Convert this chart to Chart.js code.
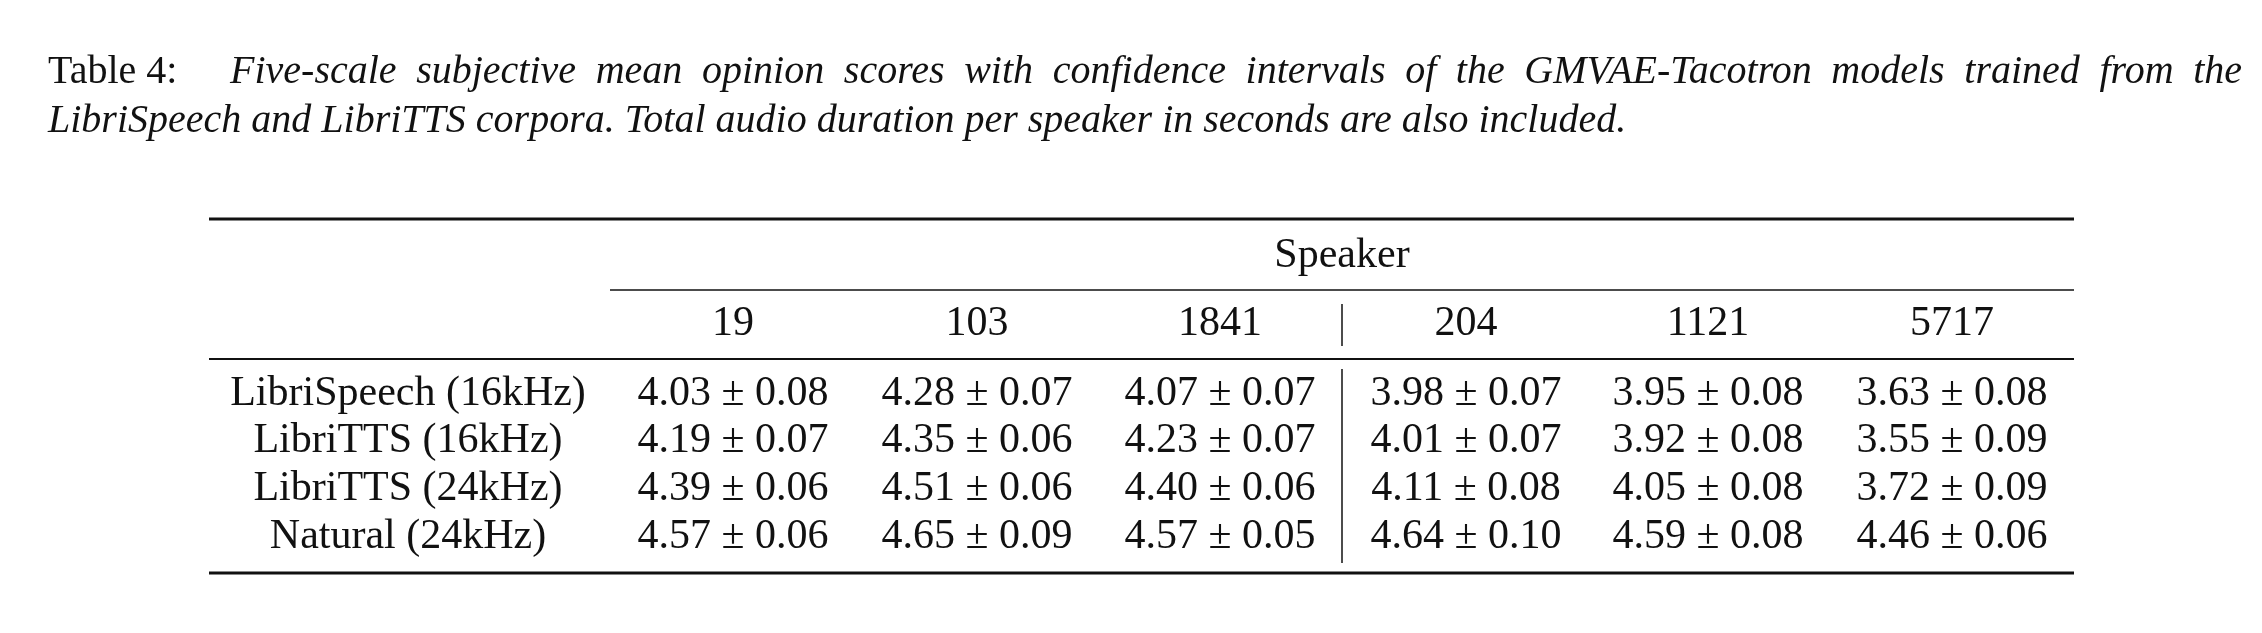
<!DOCTYPE html>
<html><head><meta charset="utf-8">
<script src="https://cdn.jsdelivr.net/npm/chart.js@4.4.0/dist/chart.umd.min.js"></script>
<style>html,body{margin:0;padding:0;background:#fff}#c{display:block}</style>
</head><body>
<div style="width:2262px;height:633px"><canvas id="c"></canvas></div>
<script>
// table content
var speakers = ['19', '103', '1841', '204', '1121', '5717'];
var systems = ['LibriSpeech (16kHz)', 'LibriTTS (16kHz)', 'LibriTTS (24kHz)', 'Natural (24kHz)'];
var means = [
  [4.03, 4.28, 4.07, 3.98, 3.95, 3.63],
  [4.19, 4.35, 4.23, 4.01, 3.92, 3.55],
  [4.39, 4.51, 4.40, 4.11, 4.05, 3.72],
  [4.57, 4.65, 4.57, 4.64, 4.59, 4.46]
];
var cis = [
  [0.08, 0.07, 0.07, 0.07, 0.08, 0.08],
  [0.07, 0.06, 0.07, 0.07, 0.08, 0.09],
  [0.06, 0.06, 0.06, 0.08, 0.08, 0.09],
  [0.06, 0.09, 0.05, 0.10, 0.08, 0.06]
];
var caption1 = 'Five-scale subjective mean opinion scores with confidence intervals of the GMVAE-Tacotron models trained from the';
var caption2 = 'LibriSpeech and LibriTTS corpora. Total audio duration per speaker in seconds are also included.';

// layout in page pixels (x: 0..2262, y: 0..633)
var colX = [733, 977, 1220, 1466, 1708, 1952];
var labelX = 408;
var rowY = [394, 441, 489, 537];
var serif = '"Liberation Serif", "DejaVu Serif", serif';

var tablePlugin = {
  id: 'table',
  afterDraw: function (chart) {
    var c = chart.ctx, sx = chart.scales.x, sy = chart.scales.y;
    var X = function (v) { return sx.getPixelForValue(v); };
    var Y = function (v) { return sy.getPixelForValue(v); };
    c.save();
    c.fillStyle = '#111';
    c.strokeStyle = '#111';
    c.textBaseline = 'middle';

    // caption line 1, justified
    c.font = '40px ' + serif;
    c.textAlign = 'left';
    c.fillText('Table 4:', X(48), Y(72));
    c.font = 'italic 40px ' + serif;
    var words = caption1.split(' ');
    var start = X(230), end = X(2242);
    var w = 0;
    words.forEach(function (t) { w += c.measureText(t).width; });
    var gap = (end - start - w) / (words.length - 1);
    var px = start;
    words.forEach(function (t) { c.fillText(t, px, Y(72)); px += c.measureText(t).width + gap; });
    c.fillText(caption2, X(48), Y(121));

    // rules
    function hline(x1, x2, y, lw) { c.lineWidth = lw; c.beginPath(); c.moveTo(X(x1), Y(y)); c.lineTo(X(x2), Y(y)); c.stroke(); }
    function vline(x, y1, y2) { c.lineWidth = 1.5; c.beginPath(); c.moveTo(X(x), Y(y1)); c.lineTo(X(x), Y(y2)); c.stroke(); }
    hline(209, 2074, 219, 3);
    hline(610, 2074, 290, 1.5);
    hline(209, 2074, 359, 2);
    hline(209, 2074, 573, 3);
    vline(1342, 304, 346);
    vline(1342, 369, 563);

    c.font = '42px ' + serif;
    c.textAlign = 'center';
    c.fillText('Speaker', X(1342), Y(256));
    speakers.forEach(function (s, i) { c.fillText(s, X(colX[i]), Y(324)); });
    systems.forEach(function (s, r) {
      c.fillText(s, X(labelX), Y(rowY[r]));
      means[r].forEach(function (m, i) {
        c.fillText(m.toFixed(2) + ' \u00b1 ' + cis[r][i].toFixed(2), X(colX[i]), Y(rowY[r]));
      });
    });
    c.restore();
  }
};

new Chart(document.getElementById('c'), {
  type: 'scatter',
  data: { datasets: [{ data: [] }] },
  options: {
    responsive: true,
    maintainAspectRatio: false,
    animation: false,
    layout: { padding: 0 },
    plugins: { legend: { display: false }, tooltip: { enabled: false } },
    scales: {
      x: { type: 'linear', min: 0, max: 2262, display: false },
      y: { type: 'linear', min: 0, max: 633, reverse: true, display: false }
    }
  },
  plugins: [tablePlugin]
});
</script>
</body></html>
